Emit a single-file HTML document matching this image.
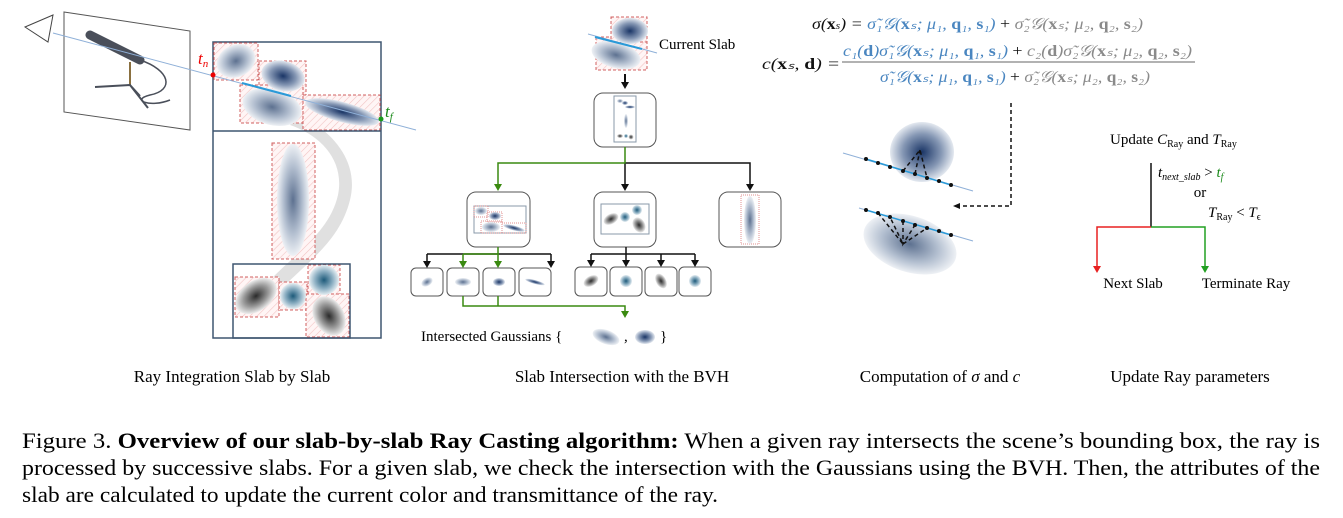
<!DOCTYPE html>
<html><head><meta charset="utf-8"><style>
html,body{margin:0;padding:0;background:#fff;}
svg{display:block;}
text{font-family:"Liberation Serif",serif;}
</style></head><body>
<svg width="1343" height="518" viewBox="0 0 1343 518" xmlns="http://www.w3.org/2000/svg">
<defs>
<radialGradient id="gb"><stop offset="0" stop-color="#1a3566"/><stop offset="0.6" stop-color="#8597b4"/><stop offset="1" stop-color="#e4e9f0"/></radialGradient>
<radialGradient id="gl"><stop offset="0" stop-color="#5d7190"/><stop offset="0.6" stop-color="#b3bfd0"/><stop offset="1" stop-color="#eef1f5"/></radialGradient>
<radialGradient id="gt"><stop offset="0" stop-color="#1d5a7a"/><stop offset="0.6" stop-color="#8fb1c4"/><stop offset="1" stop-color="#e6eef2"/></radialGradient>
<radialGradient id="gg"><stop offset="0" stop-color="#2a2a2a"/><stop offset="0.6" stop-color="#9a9a9a"/><stop offset="1" stop-color="#eeeeee"/></radialGradient>
<pattern id="hat" width="5" height="5" patternUnits="userSpaceOnUse" patternTransform="rotate(45)"><rect width="5" height="5" fill="#fff5f5"/><line x1="0" y1="0" x2="0" y2="5" stroke="#f2c4c4" stroke-width="1.2"/></pattern>
</defs>

<path d="M25,27 L53,15 L48,42 Z" fill="none" stroke="#444" stroke-width="1"/>
<path d="M64,12 L190,31 L190,130 L64,112 Z" fill="#fff" stroke="#555" stroke-width="1"/>
<g stroke="#4a4f5a" fill="none">
<line x1="90" y1="35" x2="140" y2="60" stroke-width="9" stroke-linecap="round"/>
<line x1="130" y1="62" x2="130" y2="85" stroke="#8a7040" stroke-width="2"/>
<path d="M95,87 L130,85 L148,108 M130,85 L140,96" stroke-width="2"/>
<path d="M140,60 C170,70 175,90 150,95 C130,100 150,108 170,100" stroke-width="1.5"/>
</g>
<rect x="213" y="42" width="168" height="296" fill="#fff" stroke="#3f5670" stroke-width="1.5"/>
<g fill="#d8d8d8" opacity="0.8">
<path d="M300,115 C330,130 360,160 350,200 C340,240 310,260 280,290 L270,280 C300,250 330,230 338,195 C345,160 320,135 290,125 Z"/>
</g>
<g stroke="#d06060" stroke-dasharray="3,2" stroke-width="1" fill="url(#hat)">
<rect x="214" y="43" width="44" height="37"/>
<rect x="259" y="61" width="47" height="35"/>
<rect x="240" y="85" width="63" height="38"/>
<rect x="303" y="95" width="77" height="35"/>
<rect x="272" y="143" width="43" height="116"/>
<rect x="235" y="277" width="44" height="40"/>
<rect x="279" y="282" width="28" height="28"/>
<rect x="308" y="265" width="32" height="30"/>
<rect x="306" y="294" width="43" height="43"/>
</g>
<ellipse cx="236" cy="61" rx="20" ry="16" fill="url(#gl)" transform="rotate(-25 236 61)"/>
<ellipse cx="283" cy="76" rx="22" ry="15" fill="url(#gb)" transform="rotate(15 283 76)"/>
<ellipse cx="272" cy="107" rx="30" ry="18" fill="url(#gl)" transform="rotate(15 272 107)"/>
<ellipse cx="342" cy="112" rx="38" ry="10" fill="url(#gb)" transform="rotate(15 342 112)"/>
<ellipse cx="293" cy="200" rx="16" ry="56" fill="url(#gl)"/>
<ellipse cx="256" cy="296" rx="23" ry="15" fill="url(#gg)" transform="rotate(-35 256 296)"/>
<circle cx="293" cy="296" r="13" fill="url(#gt)"/>
<circle cx="324" cy="280" r="15" fill="url(#gt)"/>
<ellipse cx="329" cy="316" rx="15" ry="21" fill="url(#gg)" transform="rotate(-30 329 316)"/>
<line x1="213" y1="131" x2="381" y2="131" stroke="#3f5670" stroke-width="1.5"/>
<rect x="233" y="264" width="117" height="74" fill="none" stroke="#3f5670" stroke-width="1.5"/>
<line x1="53" y1="33" x2="416" y2="130" stroke="#8fb0d8" stroke-width="1"/>
<line x1="242" y1="83" x2="291" y2="96" stroke="#2a9ad8" stroke-width="2"/>
<circle cx="213" cy="75" r="2.5" fill="#e00"/>
<circle cx="381" cy="119" r="2.5" fill="#1a9a1a"/>
<text x="198" y="64" font-size="17" font-style="italic" fill="#e00">t<tspan font-size="11" dy="3">n</tspan></text>
<text x="385" y="117" font-size="17" font-style="italic" fill="#1a8a1a">t<tspan font-size="11" dy="3">f</tspan></text>

<g stroke="#d06060" stroke-dasharray="3,2" fill="url(#hat)">
<rect x="596" y="37" width="51" height="33"/>
<rect x="611" y="17" width="36" height="25"/>
</g>
<ellipse cx="630" cy="31" rx="18" ry="13" fill="url(#gb)"/>
<ellipse cx="616" cy="55" rx="25" ry="13" fill="url(#gl)" transform="rotate(15 616 55)"/>
<line x1="588" y1="34" x2="657" y2="53" stroke="#8fb0d8" stroke-width="1"/>
<line x1="595" y1="37" x2="642" y2="49" stroke="#2a9ad8" stroke-width="2"/>
<text x="659" y="49" font-size="15">Current Slab</text>
<line x1="625" y1="74" x2="625" y2="82" stroke="#111" stroke-width="2"/>
<path d="M621,82 h8 l-4,7z" fill="#111"/>

<g fill="#fff" stroke="#555" stroke-width="1">
<rect x="594" y="93" width="62" height="54" rx="9"/>
<rect x="467" y="192" width="63" height="55" rx="9"/>
<rect x="594" y="192" width="62" height="55" rx="9"/>
<rect x="719" y="192" width="62" height="55" rx="9"/>
<rect x="411" y="268" width="32" height="28" rx="5"/>
<rect x="447" y="268" width="32" height="28" rx="5"/>
<rect x="483" y="268" width="32" height="28" rx="5"/>
<rect x="519" y="268" width="32" height="28" rx="5"/>
<rect x="575" y="267" width="32" height="29" rx="5"/>
<rect x="610" y="267" width="32" height="29" rx="5"/>
<rect x="645" y="267" width="32" height="29" rx="5"/>
<rect x="679" y="267" width="32" height="29" rx="5"/>
</g>
<rect x="614" y="96" width="22" height="46" fill="none" stroke="#8899aa"/>
<ellipse cx="620" cy="101" rx="3" ry="2" fill="url(#gl)"/><ellipse cx="625" cy="103" rx="3" ry="2" fill="url(#gb)"/><ellipse cx="630" cy="107" rx="5" ry="1.5" fill="url(#gb)"/>
<ellipse cx="626" cy="121" rx="2" ry="7" fill="url(#gl)"/>
<ellipse cx="620" cy="136" rx="3" ry="2" fill="url(#gg)"/><circle cx="626" cy="136" r="2" fill="url(#gt)"/><circle cx="631" cy="137" r="2.5" fill="url(#gg)"/>
<rect x="474" y="206" width="52" height="27" fill="none" stroke="#8899aa"/>
<g stroke="#e09090" stroke-dasharray="1,1" fill="none"><rect x="474" y="206" width="14" height="11"/><rect x="487" y="212" width="15" height="10"/><rect x="481" y="221" width="21" height="12"/><rect x="502" y="223" width="24" height="10"/></g>
<ellipse cx="481" cy="211" rx="6" ry="4" fill="url(#gl)"/><ellipse cx="495" cy="216" rx="6" ry="4" fill="url(#gb)"/><ellipse cx="491" cy="227" rx="9" ry="5" fill="url(#gl)"/><ellipse cx="514" cy="228" rx="11" ry="2.5" fill="url(#gb)" transform="rotate(15 514 228)"/>
<rect x="601" y="204" width="48" height="30" fill="none" stroke="#8899aa"/>
<ellipse cx="611" cy="219" rx="8" ry="5" fill="url(#gg)" transform="rotate(-30 611 219)"/><circle cx="625" cy="217" r="5" fill="url(#gt)"/><circle cx="637" cy="210" r="5" fill="url(#gt)"/><ellipse cx="639" cy="225" rx="6" ry="8" fill="url(#gg)" transform="rotate(-30 639 225)"/>
<rect x="741" y="195" width="18" height="49" fill="none" stroke="#e09090" stroke-dasharray="1,1"/>
<ellipse cx="750" cy="220" rx="6" ry="24" fill="url(#gl)"/>
<ellipse cx="427" cy="282" rx="6" ry="4" fill="url(#gl)" transform="rotate(-30 427 282)"/>
<ellipse cx="463" cy="282" rx="8" ry="4" fill="url(#gl)"/>
<ellipse cx="499" cy="282" rx="6" ry="4" fill="url(#gb)"/>
<ellipse cx="535" cy="282" rx="10" ry="2" fill="url(#gb)" transform="rotate(15 535 282)"/>
<ellipse cx="591" cy="281" rx="8" ry="5" fill="url(#gg)" transform="rotate(-30 591 281)"/>
<circle cx="626" cy="281" r="6" fill="url(#gt)"/>
<ellipse cx="661" cy="281" rx="5" ry="8" fill="url(#gg)" transform="rotate(-30 661 281)"/>
<circle cx="695" cy="281" r="6" fill="url(#gt)"/>
<g fill="none" stroke-width="1.5">
<path d="M625,163 H750 V184" stroke="#111"/>
<path d="M625,163 V184" stroke="#111"/>
<path d="M625,147 V163 H498 V184" stroke="#3a8a10"/>
<path d="M427,254 H551 M427,254 V261 M551,254 V261" stroke="#111"/>
<path d="M591,254 H695 M591,254 V260 M626,247 V260 M661,254 V260 M695,254 V260" stroke="#111"/>
<path d="M463,254 H499 M498,247 V261 M463,254 V261" stroke="#3a8a10"/>
<path d="M463,296 V306 H625 V311 M498,296 V306" stroke="#3a8a10"/>
</g>
<g fill="#111"><path d="M423,261 h8 l-4,7z M547,261 h8 l-4,7z M587,260 h8 l-4,7z M622,260 h8 l-4,7z M657,260 h8 l-4,7z M691,260 h8 l-4,7z M621,184 h8 l-4,7z M746,184 h8 l-4,7z"/></g>
<g fill="#3a8a10"><path d="M494,184 h8 l-4,7z M459,261 h8 l-4,7z M494,261 h8 l-4,7z M621,311 h8 l-4,7z"/></g>
<text x="421" y="341" font-size="15">Intersected Gaussians {</text>
<ellipse cx="606" cy="337" rx="14" ry="7" fill="url(#gl)" transform="rotate(20 606 337)"/>
<text x="624" y="341" font-size="15">,</text>
<ellipse cx="645" cy="337" rx="10" ry="7" fill="url(#gb)"/>
<text x="660" y="341" font-size="15">}</text>

<g font-size="16" font-style="italic">
<text x="812" y="29" textLength="331" lengthAdjust="spacingAndGlyphs"><tspan fill="#111">σ(<tspan font-weight="bold" font-style="normal">x</tspan><tspan font-size="10">s</tspan>) = </tspan><tspan fill="#4a86c0">σ̃₁𝒢(<tspan font-weight="bold" font-style="normal">x</tspan>ₛ; μ₁, <tspan font-weight="bold" font-style="normal">q</tspan>₁, <tspan font-weight="bold" font-style="normal">s</tspan>₁)</tspan><tspan fill="#111" font-style="normal"> + </tspan><tspan fill="#8a8a8a">σ̃₂𝒢(<tspan font-weight="bold" font-style="normal">x</tspan>ₛ; μ₂, <tspan font-weight="bold" font-style="normal">q</tspan>₂, <tspan font-weight="bold" font-style="normal">s</tspan>₂)</tspan></text>
<text x="762" y="69" textLength="78" lengthAdjust="spacingAndGlyphs" fill="#111">c(<tspan font-weight="bold" font-style="normal">x</tspan>ₛ, <tspan font-weight="bold" font-style="normal">d</tspan>) =</text>
<text x="843" y="56" textLength="349" lengthAdjust="spacingAndGlyphs"><tspan fill="#4a86c0">c₁(<tspan font-weight="bold" font-style="normal">d</tspan>)σ̃₁𝒢(<tspan font-weight="bold" font-style="normal">x</tspan>ₛ; μ₁, <tspan font-weight="bold" font-style="normal">q</tspan>₁, <tspan font-weight="bold" font-style="normal">s</tspan>₁)</tspan><tspan fill="#111" font-style="normal"> + </tspan><tspan fill="#8a8a8a">c₂(<tspan font-weight="bold" font-style="normal">d</tspan>)σ̃₂𝒢(<tspan font-weight="bold" font-style="normal">x</tspan>ₛ; μ₂, <tspan font-weight="bold" font-style="normal">q</tspan>₂, <tspan font-weight="bold" font-style="normal">s</tspan>₂)</tspan></text>
<text x="880" y="82" textLength="270" lengthAdjust="spacingAndGlyphs"><tspan fill="#4a86c0">σ̃₁𝒢(<tspan font-weight="bold" font-style="normal">x</tspan>ₛ; μ₁, <tspan font-weight="bold" font-style="normal">q</tspan>₁, <tspan font-weight="bold" font-style="normal">s</tspan>₁)</tspan><tspan fill="#111" font-style="normal"> + </tspan><tspan fill="#8a8a8a">σ̃₂𝒢(<tspan font-weight="bold" font-style="normal">x</tspan>ₛ; μ₂, <tspan font-weight="bold" font-style="normal">q</tspan>₂, <tspan font-weight="bold" font-style="normal">s</tspan>₂)</tspan></text>
</g>
<line x1="842" y1="62" x2="1195" y2="62" stroke="#666" stroke-width="1"/>

<ellipse cx="922" cy="152" rx="32" ry="30" fill="url(#gb)"/>
<ellipse cx="910" cy="244" rx="48" ry="28" fill="url(#gl)" transform="rotate(18 910 244)"/>
<line x1="843" y1="153" x2="973" y2="191" stroke="#8fb0d8" stroke-width="1"/>
<line x1="866" y1="159" x2="951" y2="185" stroke="#2a9ad8" stroke-width="1.5"/>
<line x1="859" y1="208" x2="973" y2="241" stroke="#8fb0d8" stroke-width="1"/>
<line x1="866" y1="210" x2="951" y2="235" stroke="#2a9ad8" stroke-width="1.5"/>
<g fill="#111"><circle cx="866" cy="159" r="2"/><circle cx="878" cy="163" r="2"/><circle cx="890" cy="167" r="2"/><circle cx="903" cy="171" r="2"/><circle cx="915" cy="174" r="2"/><circle cx="927" cy="178" r="2"/><circle cx="939" cy="181" r="2"/><circle cx="951" cy="185" r="2"/>
<circle cx="866" cy="210" r="2"/><circle cx="878" cy="213" r="2"/><circle cx="890" cy="217" r="2"/><circle cx="903" cy="221" r="2"/><circle cx="915" cy="225" r="2"/><circle cx="927" cy="228" r="2"/><circle cx="939" cy="231" r="2"/><circle cx="951" cy="235" r="2"/></g>
<g stroke="#111" stroke-width="1.5" stroke-dasharray="4,3" fill="none">
<path d="M903,171 L920,150 L927,178 M915,174 L920,150"/>
<path d="M878,213 L903,244 L890,217 M903,221 L903,244 L915,225 M903,244 L927,228"/>
<path d="M1011,103 V206 H958"/>
</g>
<path d="M953,206 l7,-3 v6z" fill="#111"/>

<text x="1110" y="144" font-size="15">Update <tspan font-style="italic">C</tspan><tspan font-size="10" dy="3">Ray</tspan><tspan dy="-3"> and </tspan><tspan font-style="italic">T</tspan><tspan font-size="10" dy="3">Ray</tspan></text>
<line x1="1151" y1="163" x2="1151" y2="227" stroke="#111" stroke-width="1.5"/>
<text x="1158" y="177" font-size="15" font-style="italic">t<tspan font-size="10" dy="3">next_slab</tspan><tspan dy="-3" font-style="normal"> &gt; </tspan><tspan fill="#1a8a1a">t<tspan font-size="10" dy="3">f</tspan></tspan></text>
<text x="1200" y="197" font-size="15" text-anchor="middle">or</text>
<text x="1208" y="217" font-size="15"><tspan font-style="italic">T</tspan><tspan font-size="10" dy="3">Ray</tspan><tspan dy="-3"> &lt; </tspan><tspan font-style="italic">T</tspan><tspan font-size="10" dy="3">ϵ</tspan></text>
<path d="M1151,227 H1097 V266" stroke="#e82020" stroke-width="1.5" fill="none"/>
<path d="M1093,266 h8 l-4,7z" fill="#e82020"/>
<path d="M1151,227 H1205 V266" stroke="#22a022" stroke-width="1.5" fill="none"/>
<path d="M1201,266 h8 l-4,7z" fill="#22a022"/>
<text x="1133" y="288" font-size="15" text-anchor="middle">Next Slab</text>
<text x="1246" y="288" font-size="15" text-anchor="middle">Terminate Ray</text>

<g font-size="17" text-anchor="middle">
<text x="232" y="382">Ray Integration Slab by Slab</text>
<text x="622" y="382">Slab Intersection with the BVH</text>
<text x="940" y="382">Computation of <tspan font-style="italic">σ</tspan> and <tspan font-style="italic">c</tspan></text>
<text x="1190" y="382">Update Ray parameters</text>
</g>

<g font-size="22">
<text x="22" y="448" textLength="1298" lengthAdjust="spacingAndGlyphs">Figure 3.  <tspan font-weight="bold">Overview of our slab-by-slab Ray Casting algorithm:</tspan> When a given ray intersects the scene’s bounding box, the ray is</text>
<text x="22" y="475" textLength="1298" lengthAdjust="spacingAndGlyphs">processed by successive slabs. For a given slab, we check the intersection with the Gaussians using the BVH. Then, the attributes of the</text>
<text x="22" y="502" textLength="696" lengthAdjust="spacingAndGlyphs">slab are calculated to update the current color and transmittance of the ray.</text>
</g>
</svg>
</body></html>
